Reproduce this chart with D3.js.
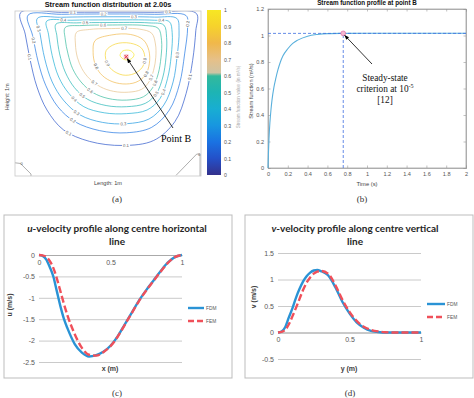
<!DOCTYPE html>
<html><head><meta charset="utf-8">
<script src="https://cdn.jsdelivr.net/npm/d3@7"></script>
<style>body{margin:0;background:#fff}svg{display:block}</style>
</head><body>
<script>
// ================= DATA =================
// (a) contour levels and their outlines (Length, Height in 0..1)
const contourLevels = [0.1,0.2,0.3,0.4,0.5,0.6,0.7,0.8,0.9,1.0];
const c01 = [[0.03,0.99],[0.055,0.86],[0.082,0.70],[0.118,0.54],[0.172,0.40],[0.26,0.28],[0.40,0.21],[0.58,0.185],[0.745,0.215],[0.86,0.33],[0.92,0.50],[0.955,0.70],[0.972,0.88],[0.975,0.985],[0.75,0.992],[0.5,0.993],[0.25,0.992]];
const c02 = [[0.07,0.975],[0.095,0.85],[0.125,0.69],[0.165,0.55],[0.23,0.42],[0.32,0.33],[0.455,0.275],[0.60,0.262],[0.735,0.295],[0.83,0.40],[0.885,0.56],[0.912,0.74],[0.928,0.9],[0.92,0.972],[0.75,0.98],[0.5,0.982],[0.25,0.98]];
const c03 = [[0.12,0.955],[0.135,0.86],[0.16,0.71],[0.2,0.57],[0.26,0.46],[0.35,0.37],[0.47,0.325],[0.6,0.317],[0.72,0.345],[0.8,0.43],[0.85,0.57],[0.872,0.73],[0.882,0.88],[0.87,0.955],[0.75,0.963],[0.5,0.965],[0.25,0.962]];
const c04 = [[0.17,0.938],[0.18,0.86],[0.2,0.73],[0.235,0.6],[0.29,0.5],[0.37,0.42],[0.48,0.383],[0.6,0.378],[0.71,0.4],[0.78,0.47],[0.82,0.59],[0.84,0.73],[0.845,0.87],[0.83,0.935],[0.75,0.944],[0.5,0.946],[0.3,0.944]];
const c05 = [[0.22,0.92],[0.225,0.85],[0.24,0.74],[0.27,0.63],[0.32,0.535],[0.39,0.465],[0.49,0.427],[0.6,0.42],[0.7,0.44],[0.76,0.5],[0.795,0.6],[0.812,0.72],[0.815,0.84],[0.8,0.915],[0.72,0.928],[0.5,0.93],[0.33,0.928]];
const c06 = [[0.27,0.9],[0.27,0.83],[0.285,0.74],[0.31,0.65],[0.355,0.57],[0.42,0.505],[0.5,0.47],[0.6,0.46],[0.69,0.48],[0.74,0.535],[0.77,0.62],[0.785,0.72],[0.788,0.82],[0.77,0.895],[0.7,0.912],[0.5,0.915],[0.36,0.912]];
const c07 = [[0.33,0.87],[0.325,0.8],[0.335,0.72],[0.36,0.65],[0.4,0.59],[0.46,0.54],[0.53,0.513],[0.61,0.508],[0.68,0.525],[0.72,0.57],[0.745,0.64],[0.757,0.72],[0.755,0.8],[0.735,0.865],[0.67,0.89],[0.5,0.893],[0.4,0.888]];
const c08 = [[0.43,0.82],[0.42,0.75],[0.43,0.68],[0.46,0.62],[0.51,0.578],[0.58,0.558],[0.65,0.568],[0.7,0.61],[0.722,0.68],[0.72,0.76],[0.69,0.825],[0.62,0.858],[0.52,0.855]];
const c09 = [[0.49,0.76],[0.49,0.7],[0.52,0.645],[0.58,0.612],[0.64,0.62],[0.685,0.66],[0.698,0.72],[0.68,0.775],[0.62,0.805],[0.54,0.8]];
const c10 = [[0.565,0.73],[0.59,0.705],[0.625,0.71],[0.64,0.735],[0.62,0.76],[0.58,0.758]];
const contourShapes = [c01,c02,c03,c04,c05,c06,c07,c08,c09,c10];
// where the contour labels sit (nearest point of each contour)
const contourLabelAt = [
  [[0.315,0.99],[0.825,0.99],[0.082,0.72],[0.279,0.24],[0.601,0.19],[0.96,0.6]],
  [[0.479,0.98],[0.114,0.82],[0.297,0.32],[0.93,0.92]],
  [[0.64,0.965],[0.136,0.9],[0.333,0.38],[0.583,0.33],[0.88,0.73]],
  [[0.26,0.94],[0.789,0.94],[0.318,0.47],[0.78,0.52]],
  [[0.38,0.93],[0.368,0.5],[0.75,0.5]],
  [[0.476,0.915],[0.404,0.52],[0.72,0.58]],
  [[0.587,0.89],[0.431,0.57],[0.73,0.6]],
  [[0.43,0.66],[0.7,0.62]],
  [[0.49,0.68],[0.69,0.7]],
  []
];
const cornerLeft = [[0.0,0.08],[0.029,0.076],[0.086,0.012],[0.086,0.0]];
const cornerRight = [[0.866,0.004],[0.977,0.133],[0.995,0.133],[0.995,0.0]];
const pointB = [0.598,0.723];
const colorbarTicks = [0,0.1,0.2,0.3,0.4,0.5,0.6,0.7,0.8,0.9,1];
const cbStops  = [0,0.1,0.2,0.3,0.4,0.5,0.6,0.62,0.7,0.8,0.9,1];
const cbColors = ['#34318c','#2450c8','#1a72e2','#1896e0','#18aed2','#1db4b4','#33b99c','#cfc4a4','#e6c088','#f0b84a','#f6d22c','#f7e723'];

// (b) stream function at point B vs time
const timeB   = [0,0.005,0.01,0.02,0.03,0.04,0.06,0.08,0.1,0.125,0.15,0.2,0.25,0.3,0.4,0.5,0.6,0.76,1.0,2.0];
const streamB = [0,0.12,0.22,0.35,0.44,0.51,0.61,0.68,0.74,0.80,0.845,0.9,0.94,0.965,0.995,1.008,1.014,1.016,1.017,1.017];
const steadyTime = 0.76, steadyValue = 1.016;
const timeTicks = [0,0.2,0.4,0.6,0.8,1,1.2,1.4,1.6,1.8,2];
const streamTicks = [0,0.2,0.4,0.6,0.8,1,1.2];

// (c) u-velocity along centre horizontal line
const xPos = [0,0.025,0.05,0.075,0.1,0.125,0.15,0.175,0.2,0.25,0.3,0.35,0.4,0.45,0.5,0.55,0.6,0.65,0.7,0.75,0.8,0.85,0.9,0.95,1.0];
const uFDM = [0,-0.02,-0.1,-0.28,-0.5,-0.85,-1.2,-1.5,-1.72,-2.08,-2.28,-2.37,-2.34,-2.26,-2.12,-1.9,-1.62,-1.34,-1.06,-0.82,-0.6,-0.38,-0.18,-0.05,0];
const uFEM = [0,-0.01,-0.04,-0.14,-0.3,-0.55,-0.85,-1.15,-1.42,-1.85,-2.17,-2.33,-2.35,-2.27,-2.13,-1.91,-1.63,-1.35,-1.07,-0.83,-0.61,-0.39,-0.19,-0.05,0];
const uTicks = [0,-0.5,-1,-1.5,-2,-2.5];
const xTicks = [0,0.5,1];

// (d) v-velocity along centre vertical line
const yPos = [0,0.025,0.05,0.075,0.1,0.125,0.15,0.175,0.2,0.225,0.25,0.275,0.3,0.35,0.4,0.45,0.5,0.55,0.6,0.65,0.7,0.75,0.8,0.9,1.0];
const vFDM = [0,0.02,0.1,0.28,0.45,0.65,0.82,0.96,1.06,1.13,1.17,1.18,1.16,1.08,0.86,0.58,0.36,0.19,0.09,0.03,0.01,0,0,0,0];
const vFEM = [0,0.01,0.05,0.15,0.3,0.46,0.63,0.8,0.94,1.04,1.11,1.15,1.16,1.11,0.9,0.62,0.39,0.22,0.11,0.05,0.02,0.005,0,0,0];
const vTicks = [1.5,1,0.5,0,-0.5];
const yTicks = [0,0.5,1];

// ================= DRAW =================
const W = 474, H = 398;
const sans = '"Liberation Sans", Arial, sans-serif';
const serif = '"Liberation Serif", "Times New Roman", serif';
const svg = d3.select('body').append('svg').attr('width',W).attr('height',H)
  .style('font-family', sans);
svg.append('rect').attr('width',W).attr('height',H).attr('fill','#fff');
const defs = svg.append('defs');
defs.append('marker').attr('id','arr').attr('viewBox','0 0 10 10').attr('refX',9).attr('refY',5)
  .attr('markerWidth',6).attr('markerHeight',6).attr('orient','auto-start-reverse')
  .append('path').attr('d','M0,1 L10,5 L0,9 z').attr('fill','#000');

// ---------- (a) ----------
const xA = d3.scaleLinear().domain([0,1]).range([15,201]);
const yA = d3.scaleLinear().domain([0,1]).range([176,11]);
const color = d3.scaleLinear().domain(cbStops).range(cbColors);
defs.append('clipPath').attr('id','clipA').append('rect')
  .attr('x',xA(0)).attr('y',yA(1)).attr('width',xA(1)-xA(0)).attr('height',yA(0)-yA(1));
const gA = svg.append('g');
const gc = gA.append('g').attr('clip-path','url(#clipA)');
const lineA = d3.line().x(d=>xA(d[0])).y(d=>yA(d[1])).curve(d3.curveCatmullRomClosed.alpha(0.5));
const labelsG = gA.append('g');
contourShapes.forEach((pts,i)=>{
  const lev = contourLevels[i];
  const p = gc.append('path').attr('d',lineA(pts)).attr('fill','none')
    .attr('stroke',color(lev)).attr('stroke-width',0.8).attr('opacity',0.85);
  const node = p.node(), L = node.getTotalLength();
  contourLabelAt[i].forEach(t=>{
    const tx = xA(t[0]), ty = yA(t[1]);
    let best = 0, bd = Infinity;
    for (let s=0; s<=300; s++){ const q = node.getPointAtLength(s/300*L); const d=(q.x-tx)**2+(q.y-ty)**2; if(d<bd){bd=d;best=s/300*L;} }
    const a = node.getPointAtLength(best), b = node.getPointAtLength(Math.min(L,best+1));
    let ang = Math.atan2(b.y-a.y,b.x-a.x)*180/Math.PI;
    if (ang>90) ang-=180; if (ang<-90) ang+=180;
    const g = labelsG.append('g').attr('transform',`translate(${a.x},${a.y}) rotate(${ang})`);
    g.append('rect').attr('x',-4).attr('y',-2).attr('width',8).attr('height',4).attr('fill','#fff');
    g.append('text').attr('text-anchor','middle').attr('dy','1.5').attr('font-size',4.3)
      .attr('fill','#555').text(lev.toFixed(1));
  });
});
const lineOpen = d3.line().x(d=>xA(d[0])).y(d=>yA(d[1]));
[cornerLeft,cornerRight].forEach(c=>{
  gc.append('path').attr('d',lineOpen(c)).attr('fill','none').attr('stroke','#777').attr('stroke-width',0.6);
});
gA.append('text').attr('x',xA(0.03)).attr('y',yA(0.065)).attr('font-size',4).attr('fill','#555').text('0');
gA.append('text').attr('x',xA(0.985)).attr('y',yA(0.12)).attr('font-size',4).attr('fill','#555').text('0');
gA.append('rect').attr('x',xA(0)).attr('y',yA(1)).attr('width',xA(1)-xA(0)).attr('height',yA(0)-yA(1))
  .attr('fill','none').attr('stroke','#c8c8c8').attr('stroke-width',0.8);
// point B
const bx = xA(pointB[0]), by = yA(pointB[1]);
gA.append('circle').attr('cx',bx).attr('cy',by).attr('r',2.6).attr('fill','#f6b0b8').attr('opacity',0.7);
gA.append('path').attr('d',`M${bx-1.8},${by-1.8}L${bx+1.8},${by+1.8}M${bx-1.8},${by+1.8}L${bx+1.8},${by-1.8}`)
  .attr('stroke','#e02838').attr('stroke-width',0.9);
gA.append('line').attr('x1',173).attr('y1',128).attr('x2',bx+1).attr('y2',by+2)
  .attr('stroke','#000').attr('stroke-width',0.8).attr('marker-end','url(#arr)');
gA.append('text').attr('x',161).attr('y',142).attr('font-family',serif).attr('font-size',10).text('Point B');
gA.append('text').attr('x',108).attr('y',7).attr('text-anchor','middle').attr('font-weight','bold')
  .attr('font-size',7.3).attr('fill','#111').text('Stream function distribution at 2.00s');
gA.append('text').attr('transform',`translate(9,${yA(0.48)}) rotate(-90)`).attr('text-anchor','middle')
  .attr('font-size',5.6).attr('fill','#444').text('Height: 1m');
gA.append('text').attr('x',108).attr('y',185).attr('text-anchor','middle')
  .attr('font-size',5.6).attr('fill','#444').text('Length: 1m');
// colorbar
const yCB = d3.scaleLinear().domain([0,1]).range([175,10]);
const grad = defs.append('linearGradient').attr('id','cbg').attr('x1',0).attr('y1',1).attr('x2',0).attr('y2',0);
cbStops.forEach((s,i)=>grad.append('stop').attr('offset',s).attr('stop-color',cbColors[i]));
gA.append('rect').attr('x',207).attr('y',yCB(1)).attr('width',14).attr('height',yCB(0)-yCB(1)).attr('fill','url(#cbg)');
const cbAxis = d3.axisRight(yCB).tickValues(colorbarTicks).tickSize(0).tickPadding(3).tickFormat(d=>String(d));
const cbg = gA.append('g').attr('transform','translate(221,0)').call(cbAxis);
cbg.select('.domain').remove();
cbg.selectAll('text').attr('font-size',5.2).attr('fill','#555').attr('font-family',sans);
gA.append('text').attr('transform','translate(240,97) rotate(-90)').attr('text-anchor','middle')
  .attr('font-size',4.6).attr('fill','#aaa').text('Stream function value (in m²/s)');
svg.append('text').attr('x',117).attr('y',202).attr('text-anchor','middle').attr('font-family',serif)
  .attr('font-size',9).attr('fill','#333').text('(a)');

// ---------- (b) ----------
const xB = d3.scaleLinear().domain([0,2]).range([268,466]);
const yB = d3.scaleLinear().domain([0,1.2]).range([168,9]);
const gB = svg.append('g');
gB.append('rect').attr('x',xB(0)).attr('y',yB(1.2)).attr('width',xB(2)-xB(0)).attr('height',yB(0)-yB(1.2))
  .attr('fill','none').attr('stroke','#999').attr('stroke-width',0.7);
const fmt1 = d=>String(+d.toFixed(1));
const axBb = gB.append('g').attr('transform',`translate(0,${yB(0)})`).call(d3.axisBottom(xB).tickValues(timeTicks).tickSize(-2.5).tickPadding(4).tickFormat(fmt1));
const axBl = gB.append('g').attr('transform',`translate(${xB(0)},0)`).call(d3.axisLeft(yB).tickValues(streamTicks).tickSize(-2.5).tickPadding(4).tickFormat(fmt1));
const axBt = gB.append('g').attr('transform',`translate(0,${yB(1.2)})`).call(d3.axisTop(xB).tickValues(timeTicks).tickSize(-2.5).tickFormat(''));
const axBr = gB.append('g').attr('transform',`translate(${xB(2)},0)`).call(d3.axisRight(yB).tickValues(streamTicks).tickSize(-2.5).tickFormat(''));
[axBb,axBl,axBt,axBr].forEach(a=>{
  a.select('.domain').attr('stroke','#999').attr('stroke-width',0.7);
  a.selectAll('.tick line').attr('stroke','#999').attr('stroke-width',0.6);
  a.selectAll('text').attr('font-size',5.6).attr('fill','#555').attr('font-family',sans);
});
const lineB = d3.line().x((d,i)=>xB(timeB[i])).y(d=>yB(d)).curve(d3.curveMonotoneX);
gB.append('path').attr('d',lineB(streamB)).attr('fill','none').attr('stroke','#5ab0dc').attr('stroke-width',1.1);
gB.append('line').attr('x1',xB(0)).attr('x2',xB(2)).attr('y1',yB(steadyValue)).attr('y2',yB(steadyValue))
  .attr('stroke','#3f6ee0').attr('stroke-width',0.8).attr('stroke-dasharray','3,2');
gB.append('line').attr('x1',xB(steadyTime)).attr('x2',xB(steadyTime)).attr('y1',yB(0)).attr('y2',yB(steadyValue))
  .attr('stroke','#3f6ee0').attr('stroke-width',0.8).attr('stroke-dasharray','3,2');
gB.append('circle').attr('cx',xB(steadyTime)).attr('cy',yB(steadyValue)).attr('r',2.4)
  .attr('fill','#f4b8d0').attr('stroke','#e060a0').attr('stroke-width',0.6);
gB.append('line').attr('x1',372).attr('y1',64).attr('x2',xB(steadyTime)+1.5).attr('y2',yB(steadyValue)+2)
  .attr('stroke','#000').attr('stroke-width',0.8).attr('marker-end','url(#arr)');
const st = gB.append('text').attr('font-family',serif).attr('font-size',9.3).attr('text-anchor','middle').attr('fill','#111');
st.append('tspan').attr('x',385).attr('y',81).text('Steady-state');
const t2 = st.append('tspan').attr('x',385).attr('y',91.5).text('criterion at 10');
t2.append('tspan').attr('font-size',6).attr('dy',-3.5).text('-5');
st.append('tspan').attr('x',385).attr('y',103).text('[12]');
gB.append('text').attr('x',367).attr('y',5).attr('text-anchor','middle').attr('font-weight','bold')
  .attr('font-size',6.3).attr('fill','#111').text('Stream function profile at point B');
gB.append('text').attr('x',xB(1)).attr('y',186).attr('text-anchor','middle').attr('font-size',5.8).attr('fill','#444').text('Time (s)');
gB.append('text').attr('transform','translate(253,91) rotate(-90)').attr('text-anchor','middle')
  .attr('font-size',5.6).attr('fill','#444').text('Stream function (m²/s)');
svg.append('text').attr('x',362).attr('y',202).attr('text-anchor','middle').attr('font-family',serif)
  .attr('font-size',9).attr('fill','#333').text('(b)');

// ---------- Excel style panels ----------
const blue = '#2a93d5', red = '#f0505a';
function excelPanel(opt){
  const g = svg.append('g');
  g.append('rect').attr('x',opt.box[0]).attr('y',opt.box[1]).attr('width',opt.box[2]-opt.box[0]).attr('height',opt.box[3]-opt.box[1])
    .attr('fill','#fff').attr('stroke','#bdbdbd').attr('stroke-width',1);
  const xs = opt.xs, ys = opt.ys;
  const gy = g.append('g').attr('transform',`translate(${xs(0)},0)`)
    .call(d3.axisLeft(ys).tickValues(opt.yTicks).tickSize(-(xs(1)-xs(0))).tickPadding(4).tickFormat(d=>String(d)));
  gy.select('.domain').remove();
  gy.selectAll('.tick line').attr('stroke','#c4c4c4').attr('stroke-width',0.9);
  gy.selectAll('text').attr('font-size',7).attr('fill','#595959').attr('font-family',sans);
  const gx = g.append('g').attr('transform',`translate(0,${ys(0)})`)
    .call(d3.axisBottom(xs).tickValues(opt.xTicks).tickSize(0).tickPadding(5).tickFormat(d=>String(d)));
  gx.select('.domain').attr('stroke','#a6a6a6').attr('stroke-width',0.9);
  gx.selectAll('text').attr('font-size',7).attr('fill','#595959').attr('font-family',sans);
  const mk = arr => d3.line().x((d,i)=>xs(opt.xv[i])).y(d=>ys(d)).curve(d3.curveMonotoneX)(arr);
  g.append('path').attr('d',mk(opt.s1)).attr('fill','none').attr('stroke',blue).attr('stroke-width',2.4);
  g.append('path').attr('d',mk(opt.s2)).attr('fill','none').attr('stroke',red).attr('stroke-width',2.4).attr('stroke-dasharray','7,3');
  const t = g.append('text').attr('text-anchor','middle').attr('font-weight','bold').attr('font-size',10)
    .attr('fill','#262626').attr('font-family','Lato, "Open Sans", sans-serif');
  const l1 = t.append('tspan').attr('x',opt.tx).attr('y',opt.ty);
  l1.append('tspan').attr('font-style','italic').text(opt.title[0]);
  l1.append('tspan').text(opt.title[1]);
  t.append('tspan').attr('x',opt.tx).attr('y',opt.ty+13).text('line');
  g.append('text').attr('transform',`translate(${opt.ylab[0]},${opt.ylab[1]}) rotate(-90)`).attr('text-anchor','middle')
    .attr('font-weight','bold').attr('font-size',7).attr('fill','#404040').text(opt.ylab[2]);
  g.append('text').attr('x',opt.xlab[0]).attr('y',opt.xlab[1]).attr('text-anchor','middle')
    .attr('font-weight','bold').attr('font-size',7).attr('fill','#404040').text(opt.xlab[2]);
  const lg = opt.leg;
  g.append('line').attr('x1',lg[0]).attr('x2',lg[1]).attr('y1',lg[2]).attr('y2',lg[2]).attr('stroke',blue).attr('stroke-width',2.4);
  g.append('line').attr('x1',lg[0]).attr('x2',lg[1]).attr('y1',lg[3]).attr('y2',lg[3]).attr('stroke',red).attr('stroke-width',2.4).attr('stroke-dasharray','6,3');
  g.append('text').attr('x',lg[1]+2).attr('y',lg[2]+1.8).attr('font-size',4.8).attr('fill','#595959').text('FDM');
  g.append('text').attr('x',lg[1]+2).attr('y',lg[3]+1.8).attr('font-size',4.8).attr('fill','#595959').text('FEM');
  svg.append('text').attr('x',opt.cap[0]).attr('y',opt.cap[1]).attr('text-anchor','middle').attr('font-family',serif)
    .attr('font-size',9).attr('fill','#333').text(opt.cap[2]);
}
excelPanel({box:[4,215,232,378], xs:d3.scaleLinear().domain([0,1]).range([39,182]), ys:d3.scaleLinear().domain([-2.5,0]).range([362,255]),
  yTicks:uTicks, xTicks:xTicks, xv:xPos, s1:uFDM, s2:uFEM, title:['u','-velocity profile along centre horizontal'], tx:117, ty:232,
  ylab:[12,305,'u (m/s)'], xlab:[110,371,'x (m)'], leg:[188,204,308,321], cap:[117,396,'(c)']});
excelPanel({box:[245,215,473,378], xs:d3.scaleLinear().domain([0,1]).range([278,421]), ys:d3.scaleLinear().domain([-0.5,1.5]).range([359,253]),
  yTicks:vTicks, xTicks:yTicks, xv:yPos, s1:vFDM, s2:vFEM, title:['v','-velocity profile along centre vertical'], tx:355, ty:232,
  ylab:[256,297,'v (m/s)'], xlab:[349,371,'y (m)'], leg:[427,445,304,317], cap:[350,396,'(d)']});
</script>
</body></html>
